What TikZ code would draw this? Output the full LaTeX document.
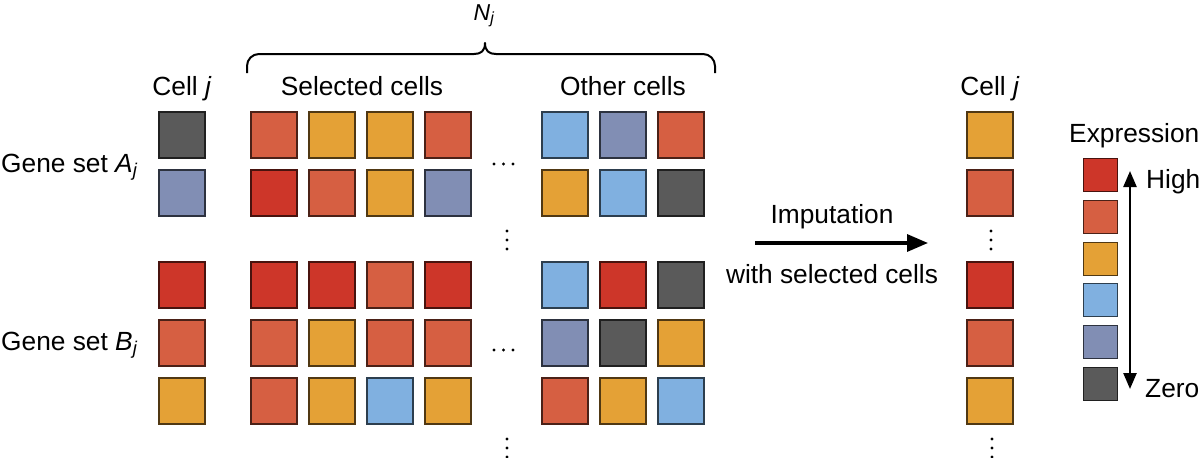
\documentclass[tikz,border=0pt]{standalone}
\usepackage{fontspec}
\setmainfont{Liberation Sans}
\usetikzlibrary{arrows.meta}
\definecolor{cR}{RGB}{205,54,41}
\definecolor{cO}{RGB}{214,95,66}
\definecolor{cG}{RGB}{228,161,54}
\definecolor{cL}{RGB}{128,176,224}
\definecolor{cS}{RGB}{129,142,180}
\definecolor{cK}{RGB}{90,90,90}
\newcommand\subj{\textsubscript{\itshape j}}
\tikzset{
  sq/.style={draw=#1!35!black, fill=#1, line width=1.1pt, minimum width=46pt, minimum height=46pt, inner sep=0pt, outer sep=0pt},
  lsq/.style={draw=#1!35!black, fill=#1, line width=1.1pt, minimum width=34pt, minimum height=33pt, inner sep=0pt, outer sep=0pt},
  lbl/.style={font=\fontsize{26.3}{30}\selectfont, inner sep=0pt, anchor=base},
  dotmark/.style={fill=black}
}
\begin{document}
\begin{tikzpicture}[x=1pt,y=-1pt]
\useasboundingbox (0,0) rectangle (1200,458);
% top labels
\node[lbl] (lcell) at (182,95) {Cell \textit{j}};
\node[lbl] (lsel) at (362,95) {Selected cells};
\node[lbl] (loth) at (623,95) {Other cells};
\node[lbl] (rcell) at (990,95) {Cell \textit{j}};
\node[lbl, font=\fontsize{23}{27}\selectfont] (lN) at (484,20) {\textit{N}\subj};
% brace
\draw[line width=2pt, line join=round] (247,73) [rounded corners=12pt] -- (247,54) -- (400,54) [sharp corners] -- (474,54)
  .. controls (481,54) and (485,51) .. (485,43)
  .. controls (485,51) and (489,54) .. (496,54) [rounded corners=12pt] -- (715,54) -- (715,73);
% gene set labels
\node[lbl, anchor=base west] (gA) at (1,172) {Gene set \textit{A}\subj};
\node[lbl, anchor=base west] (gB) at (1,350) {Gene set \textit{B}\subj};
% cell j (left)
\node[sq=cK] (cA1) at (182,135) {};
\node[sq=cS] (cA2) at (182,193) {};
\node[sq=cR] (cB1) at (182,285) {};
\node[sq=cO] (cB2) at (182,343) {};
\node[sq=cG] (cB3) at (182,401) {};
% selected cells
\foreach \c [count=\i] in {cO,cG,cG,cO} \node[sq=\c] (sA1\i) at ({216+58*\i},135) {};
\foreach \c [count=\i] in {cR,cO,cG,cS} \node[sq=\c] (sA2\i) at ({216+58*\i},193) {};
\foreach \c [count=\i] in {cR,cR,cO,cR} \node[sq=\c] (sB1\i) at ({216+58*\i},285) {};
\foreach \c [count=\i] in {cO,cG,cO,cO} \node[sq=\c] (sB2\i) at ({216+58*\i},343) {};
\foreach \c [count=\i] in {cO,cG,cL,cG} \node[sq=\c] (sB3\i) at ({216+58*\i},401) {};
% other cells
\foreach \c [count=\i] in {cL,cS,cO} \node[sq=\c] (oA1\i) at ({507+58*\i},135) {};
\foreach \c [count=\i] in {cG,cL,cK} \node[sq=\c] (oA2\i) at ({507+58*\i},193) {};
\foreach \c [count=\i] in {cL,cR,cK} \node[sq=\c] (oB1\i) at ({507+58*\i},285) {};
\foreach \c [count=\i] in {cS,cK,cG} \node[sq=\c] (oB2\i) at ({507+58*\i},343) {};
\foreach \c [count=\i] in {cO,cG,cL} \node[sq=\c] (oB3\i) at ({507+58*\i},401) {};
% dots
\foreach \x in {494,503.5,513} { \fill[dotmark] (\x,164) circle (1.7pt); \fill[dotmark] (\x,350) circle (1.7pt); }
\foreach \y in {231,240,249} { \fill[dotmark] (507,\y) circle (1.7pt); \fill[dotmark] (991,\y) circle (1.7pt); }
\foreach \y in {439,448,457} { \fill[dotmark] (507,\y) circle (1.7pt); \fill[dotmark] (992,\y) circle (1.7pt); }
% imputation arrow
\node[lbl] (limp) at (832,223) {Imputation};
\node[lbl] (lwith) at (832,283) {with selected cells};
\coordinate (impS) at (755,243);
\coordinate (impE) at (928,243);
\draw[line width=3.3pt, -{Triangle[length=21pt,width=17pt]}] (impS) -- (impE);
% right cell j
\node[sq=cG] (rA1) at (990,135) {};
\node[sq=cO] (rA2) at (990,193) {};
\node[sq=cR] (rB1) at (990,285) {};
\node[sq=cO] (rB2) at (990,343) {};
\node[sq=cG] (rB3) at (990,401) {};
% legend
\node[lbl, anchor=base west] (lexp) at (1069,142) {Expression};
\foreach \c [count=\i] in {cR,cO,cG,cL,cS,cK} \node[lsq=\c] (leg\i) at (1100.5,{133.2+41.8*\i}) {};
\coordinate (lgT) at (1130,171);
\coordinate (lgB) at (1130,389);
\draw[line width=2.4pt, {Triangle[length=16pt,width=13pt]}-{Triangle[length=16pt,width=13pt]}] (lgT) -- (lgB);
\node[lbl, anchor=base west] (lhigh) at (1146,188) {High};
\node[lbl, anchor=base west] (lzero) at (1145,397) {Zero};
\end{tikzpicture}
\end{document}
